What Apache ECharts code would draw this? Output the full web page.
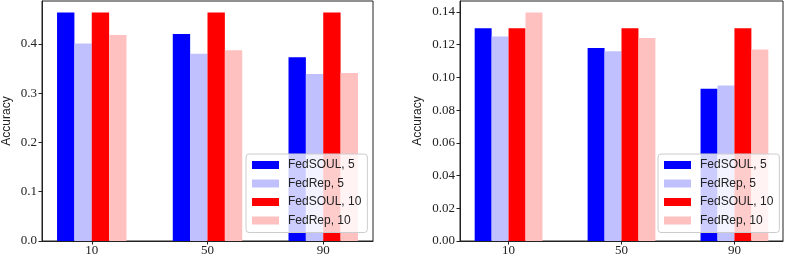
<!DOCTYPE html>
<html>
<head>
<meta charset="utf-8">
<script src="https://cdn.jsdelivr.net/npm/echarts@6/dist/echarts.min.js"></script>
<style>
  html, body { margin: 0; padding: 0; background: #fff; }
  #chart { width: 789px; height: 258px; }
</style>
</head>
<body>
<div id="chart"></div>
<script>
const categories = ['10', '50', '90']
const xPositions = [0, 1, 2]
const seriesNames = ['FedSOUL, 5', 'FedRep, 5', 'FedSOUL, 10', 'FedRep, 10']
const seriesColors = ['#0000ff', '#c0c0ff', '#ff0000', '#ffc0c0']

// left panel
const leftFedSoul5 = [0.464, 0.420, 0.373]
const leftFedRep5 = [0.401, 0.380, 0.339]
const leftFedSoul10 = [0.464, 0.464, 0.464]
const leftFedRep10 = [0.418, 0.387, 0.341]
const leftTicks = [0, 0.1, 0.2, 0.3, 0.4]

// right panel
const rightFedSoul5 = [0.130, 0.118, 0.093]
const rightFedRep5 = [0.125, 0.116, 0.095]
const rightFedSoul10 = [0.130, 0.130, 0.130]
const rightFedRep10 = [0.1397, 0.124, 0.117]
const rightTicks = [0, 0.02, 0.04, 0.06, 0.08, 0.10, 0.12, 0.14]

const textColor = '#222'
const serif = '"Liberation Serif", "DejaVu Serif", serif'
const sans = '"Liberation Sans", Arial, sans-serif'

const chart = echarts.init(document.getElementById('chart'), null, { renderer: 'canvas' })

function panelMax(groups) {
  // matplotlib style 5% headroom
  return Math.max(...groups.flat()) * 1.05
}

function makeXAxis(gridIndex) {
  return {
    type: 'value',
    gridIndex,
    min: -0.43,
    max: 2.43,
    splitLine: { show: false },
    axisLine: { show: true, onZero: false, lineStyle: { color: textColor, width: 1 } },
    axisTick: { show: true, customValues: xPositions, length: 3.5, lineStyle: { color: textColor } },
    axisLabel: {
      customValues: xPositions,
      formatter: v => categories[xPositions.indexOf(v)],
      color: textColor,
      fontFamily: serif,
      fontSize: 13,
      margin: 3
    }
  }
}

function makeYAxis(gridIndex, max, ticks, digits, nameGap) {
  return {
    type: 'value',
    gridIndex,
    min: 0,
    max,
    name: 'Accuracy',
    nameLocation: 'middle',
    nameGap,
    nameTextStyle: { color: textColor, fontFamily: sans, fontSize: 12 },
    splitLine: { show: false },
    axisLine: { show: true, onZero: false, lineStyle: { color: textColor, width: 1 } },
    axisTick: { show: true, customValues: ticks, length: 3.5, lineStyle: { color: textColor } },
    axisLabel: {
      customValues: ticks,
      formatter: v => v.toFixed(digits),
      color: textColor,
      fontFamily: serif,
      fontSize: 13,
      margin: 5
    }
  }
}

function makeSeries(groups, axisIndex) {
  return groups.map((values, i) => ({
    type: 'bar',
    name: seriesNames[i],
    xAxisIndex: axisIndex,
    yAxisIndex: axisIndex,
    data: xPositions.map((x, j) => [x, values[j]]),
    barWidth: '15%',
    barGap: '0%',
    itemStyle: { color: seriesColors[i] },
    emphasis: { disabled: true }
  }))
}

function makeLegend(left) {
  return {
    data: seriesNames,
    orient: 'vertical',
    left,
    top: 154,
    icon: 'rect',
    itemWidth: 27,
    itemHeight: 8,
    itemGap: 6.5,
    padding: [5, 6, 6, 6],
    backgroundColor: 'rgba(255,255,255,0.8)',
    borderColor: '#cccccc',
    borderWidth: 1,
    borderRadius: 3,
    selectedMode: false,
    textStyle: { color: textColor, fontFamily: sans, fontSize: 12, padding: [0, 0, 0, 4] }
  }
}

const leftGroups = [leftFedSoul5, leftFedRep5, leftFedSoul10, leftFedRep10]
const rightGroups = [rightFedSoul5, rightFedRep5, rightFedSoul10, rightFedRep10]

const gridStyle = { show: true, borderColor: textColor, borderWidth: 1, backgroundColor: 'transparent' }

const option = {
  animation: false,
  backgroundColor: '#fff',
  grid: [
    { ...gridStyle, left: 37, right: 416, top: 1, bottom: 17 },
    { ...gridStyle, left: 460, right: 6, top: 1, bottom: 17 }
  ],
  xAxis: [makeXAxis(0), makeXAxis(1)],
  yAxis: [
    makeYAxis(0, panelMax(leftGroups), leftTicks, 1, 29),
    makeYAxis(1, panelMax(rightGroups), rightTicks, 2, 36)
  ],
  legend: [makeLegend(246), makeLegend(658)],
  series: [...makeSeries(leftGroups, 0), ...makeSeries(rightGroups, 1)]
}

chart.setOption(option)
</script>
</body>
</html>
